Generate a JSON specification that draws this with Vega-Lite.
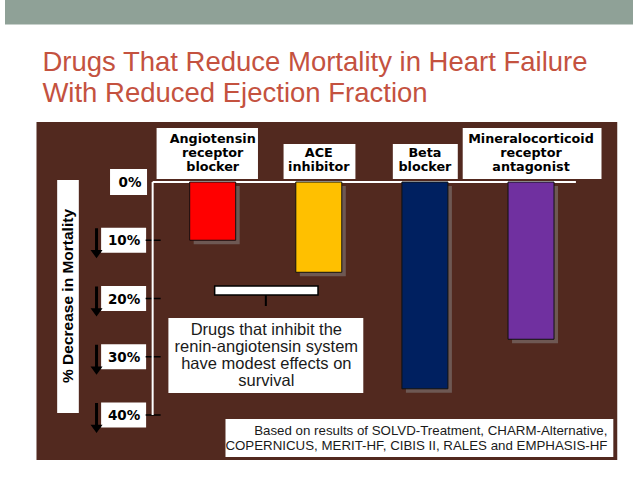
{
  "$schema": "https://vega.github.io/schema/vega-lite/v6.json",
  "width": 638,
  "height": 478,
  "autosize": {"type": "none"},
  "padding": 0,
  "background": "white",
  "config": {"view": {"stroke": null}},
  "datasets": {
    "drugs": [
      {"drug": "Angiotensin receptor blocker", "label": "Angiotensin\nreceptor\nblocker", "slot": 1, "decrease": 10},
      {"drug": "ACE inhibitor", "label": "ACE\ninhibitor", "slot": 2, "decrease": 15.5},
      {"drug": "Beta blocker", "label": "Beta\nblocker", "slot": 3, "decrease": 35.5},
      {"drug": "Mineralocorticoid receptor antagonist", "label": "Mineralocorticoid\nreceptor\nantagonist", "slot": 4, "decrease": 27}
    ],
    "ticks": [
      {"pct": 0, "label": "0%"},
      {"pct": 10, "label": "10%"},
      {"pct": 20, "label": "20%"},
      {"pct": 30, "label": "30%"},
      {"pct": 40, "label": "40%"}
    ]
  },
  "data": {"values": [{}]},
  "layer": [
    {
      "mark": {"type": "rect", "color": "#8FA197"},
      "encoding": {
        "x": {"datum": -0.9573, "type": "quantitative", "scale": {"domain": [-0.9573, 4.961], "nice": false, "zero": false}, "axis": null},
        "x2": {"datum": 4.961},
        "y": {"datum": -31.245, "type": "quantitative", "scale": {"domain": [-31.245, 50.815], "nice": false, "zero": false, "reverse": true}, "axis": null},
        "y2": {"datum": -27.04}
      }
    },
    {
      "mark": {"type": "text", "text": "Drugs That Reduce Mortality in Heart Failure\nWith Reduced Ejection Fraction", "lineBreak": "\n", "lineHeight": 31, "align": "left", "baseline": "alphabetic", "font": "Liberation Sans", "fontSize": 27.5, "color": "#C4523F"},
      "encoding": {
        "x": {"datum": -0.6048, "type": "quantitative", "scale": {"domain": [-0.9573, 4.961], "nice": false, "zero": false}, "axis": null},
        "y": {"datum": -19.056, "type": "quantitative", "scale": {"domain": [-31.245, 50.815], "nice": false, "zero": false, "reverse": true}, "axis": null}
      }
    },
    {
      "mark": {"type": "rect", "color": "#52291F"},
      "encoding": {
        "x": {"datum": -0.6605, "type": "quantitative", "scale": {"domain": [-0.9573, 4.961], "nice": false, "zero": false}, "axis": null},
        "x2": {"datum": 4.8126},
        "y": {"datum": -10.3, "type": "quantitative", "scale": {"domain": [-31.245, 50.815], "nice": false, "zero": false, "reverse": true}, "axis": null},
        "y2": {"datum": 47.725}
      }
    },
    {
      "mark": {"type": "rect", "color": "white"},
      "encoding": {
        "x": {"datum": -0.4657, "type": "quantitative", "scale": {"domain": [-0.9573, 4.961], "nice": false, "zero": false}, "axis": null},
        "x2": {"datum": -0.2616},
        "y": {"datum": -0.343, "type": "quantitative", "scale": {"domain": [-31.245, 50.815], "nice": false, "zero": false, "reverse": true}, "axis": null},
        "y2": {"datum": 39.657}
      }
    },
    {
      "mark": {"type": "text", "text": "% Decrease in Mortality", "angle": 270, "align": "center", "baseline": "middle", "font": "Liberation Sans", "fontWeight": "bold", "fontSize": 15.5, "color": "black"},
      "encoding": {
        "x": {"datum": -0.3636, "type": "quantitative", "scale": {"domain": [-0.9573, 4.961], "nice": false, "zero": false}, "axis": null},
        "y": {"datum": 19.571, "type": "quantitative", "scale": {"domain": [-31.245, 50.815], "nice": false, "zero": false, "reverse": true}, "axis": null}
      }
    },
    {
      "data": {"name": "ticks"},
      "transform": [{"filter": "datum.pct > 0"}],
      "mark": {"type": "tick", "orient": "horizontal", "size": 45, "thickness": 25, "color": "white", "opacity": 1},
      "encoding": {
        "x": {"datum": 0.1605, "type": "quantitative", "scale": {"domain": [-0.9573, 4.961], "nice": false, "zero": false}, "axis": null},
        "y": {"field": "pct", "type": "quantitative", "scale": {"domain": [-31.245, 50.815], "nice": false, "zero": false, "reverse": true}, "axis": null}
      }
    },
    {
      "data": {"name": "ticks"},
      "transform": [{"filter": "datum.pct == 0"}],
      "mark": {"type": "tick", "orient": "horizontal", "size": 37, "thickness": 26, "color": "white", "opacity": 1},
      "encoding": {
        "x": {"datum": 0.2069, "type": "quantitative", "scale": {"domain": [-0.9573, 4.961], "nice": false, "zero": false}, "axis": null},
        "y": {"field": "pct", "type": "quantitative", "scale": {"domain": [-31.245, 50.815], "nice": false, "zero": false, "reverse": true}, "axis": null}
      }
    },
    {
      "data": {"name": "ticks"},
      "transform": [{"filter": "datum.pct > 0"}],
      "mark": {"type": "text", "align": "center", "baseline": "middle", "dy": 1, "font": "DejaVu Sans", "fontWeight": "bold", "fontSize": 13.5, "color": "black"},
      "encoding": {
        "x": {"datum": 0.1651, "type": "quantitative", "scale": {"domain": [-0.9573, 4.961], "nice": false, "zero": false}, "axis": null},
        "y": {"field": "pct", "type": "quantitative", "scale": {"domain": [-31.245, 50.815], "nice": false, "zero": false, "reverse": true}, "axis": null},
        "text": {"field": "label"}
      }
    },
    {
      "data": {"name": "ticks"},
      "transform": [{"filter": "datum.pct == 0"}],
      "mark": {"type": "text", "align": "center", "baseline": "middle", "dy": 1, "font": "DejaVu Sans", "fontWeight": "bold", "fontSize": 13.5, "color": "black"},
      "encoding": {
        "x": {"datum": 0.2208, "type": "quantitative", "scale": {"domain": [-0.9573, 4.961], "nice": false, "zero": false}, "axis": null},
        "y": {"field": "pct", "type": "quantitative", "scale": {"domain": [-31.245, 50.815], "nice": false, "zero": false, "reverse": true}, "axis": null},
        "text": {"field": "label"}
      }
    },
    {
      "data": {"name": "ticks"},
      "transform": [{"filter": "datum.pct > 0"}],
      "mark": {"type": "point", "shape": "M-0.1,-1 L0.1,-1 L0.1,0.45 L0.4,0.45 L0,1 L-0.4,0.45 L-0.1,0.45 Z", "size": 900, "filled": true, "color": "black", "opacity": 1, "strokeWidth": 0, "yOffset": 3},
      "encoding": {
        "x": {"datum": -0.0947, "type": "quantitative", "scale": {"domain": [-0.9573, 4.961], "nice": false, "zero": false}, "axis": null},
        "y": {"field": "pct", "type": "quantitative", "scale": {"domain": [-31.245, 50.815], "nice": false, "zero": false, "reverse": true}, "axis": null}
      }
    },
    {
      "data": {"name": "ticks"},
      "transform": [{"filter": "datum.pct > 0"}],
      "mark": {"type": "tick", "orient": "horizontal", "size": 15, "thickness": 1.5, "color": "black", "opacity": 1},
      "encoding": {
        "x": {"datum": 0.4388, "type": "quantitative", "scale": {"domain": [-0.9573, 4.961], "nice": false, "zero": false}, "axis": null},
        "y": {"field": "pct", "type": "quantitative", "scale": {"domain": [-31.245, 50.815], "nice": false, "zero": false, "reverse": true}, "axis": null}
      }
    },
    {
      "mark": {"type": "rule", "color": "white", "strokeWidth": 2},
      "encoding": {
        "x": {"datum": 0.4341, "type": "quantitative", "scale": {"domain": [-0.9573, 4.961], "nice": false, "zero": false}, "axis": null},
        "y": {"datum": 0, "type": "quantitative", "scale": {"domain": [-31.245, 50.815], "nice": false, "zero": false, "reverse": true}, "axis": null},
        "y2": {"datum": 40}
      }
    },
    {
      "mark": {"type": "rule", "color": "white", "strokeWidth": 2},
      "encoding": {
        "x": {"datum": 0.4341, "type": "quantitative", "scale": {"domain": [-0.9573, 4.961], "nice": false, "zero": false}, "axis": null},
        "x2": {"datum": 4.423},
        "y": {"datum": 0, "type": "quantitative", "scale": {"domain": [-31.245, 50.815], "nice": false, "zero": false, "reverse": true}, "axis": null}
      }
    },
    {
      "data": {"name": "drugs"},
      "mark": {"type": "bar", "width": 46, "color": "#6E5853", "xOffset": 4, "yOffset": 4, "y2Offset": 4},
      "encoding": {
        "x": {"field": "slot", "type": "quantitative", "scale": {"domain": [-0.9573, 4.961], "nice": false, "zero": false}, "axis": null},
        "y": {"field": "decrease", "type": "quantitative", "scale": {"domain": [-31.245, 50.815], "nice": false, "zero": false, "reverse": true}, "axis": null},
        "y2": {"datum": 0}
      }
    },
    {
      "data": {"name": "drugs"},
      "mark": {"type": "bar", "width": 46, "stroke": "#111111", "strokeWidth": 1},
      "encoding": {
        "x": {"field": "slot", "type": "quantitative", "scale": {"domain": [-0.9573, 4.961], "nice": false, "zero": false}, "axis": null},
        "y": {"field": "decrease", "type": "quantitative", "scale": {"domain": [-31.245, 50.815], "nice": false, "zero": false, "reverse": true}, "axis": null},
        "y2": {"datum": 0},
        "color": {"field": "drug", "type": "nominal", "scale": {"domain": ["Angiotensin receptor blocker", "ACE inhibitor", "Beta blocker", "Mineralocorticoid receptor antagonist"], "range": ["#FF0000", "#FFC000", "#002060", "#7030A0"]}, "legend": null}
      }
    },
    {
      "mark": {"type": "rect", "color": "white"},
      "encoding": {
        "x": {"datum": 0.4712, "type": "quantitative", "scale": {"domain": [-0.9573, 4.961], "nice": false, "zero": false}, "axis": null},
        "x2": {"datum": 1.4267},
        "y": {"datum": -9.27, "type": "quantitative", "scale": {"domain": [-31.245, 50.815], "nice": false, "zero": false, "reverse": true}, "axis": null},
        "y2": {"datum": -0.515}
      }
    },
    {
      "mark": {"type": "rect", "color": "white"},
      "encoding": {
        "x": {"datum": 1.6679, "type": "quantitative", "scale": {"domain": [-0.9573, 4.961], "nice": false, "zero": false}, "axis": null},
        "x2": {"datum": 2.3451},
        "y": {"datum": -6.524, "type": "quantitative", "scale": {"domain": [-31.245, 50.815], "nice": false, "zero": false, "reverse": true}, "axis": null},
        "y2": {"datum": -0.515}
      }
    },
    {
      "mark": {"type": "rect", "color": "white"},
      "encoding": {
        "x": {"datum": 2.6976, "type": "quantitative", "scale": {"domain": [-0.9573, 4.961], "nice": false, "zero": false}, "axis": null},
        "x2": {"datum": 3.3098},
        "y": {"datum": -6.524, "type": "quantitative", "scale": {"domain": [-31.245, 50.815], "nice": false, "zero": false, "reverse": true}, "axis": null},
        "y2": {"datum": -0.515}
      }
    },
    {
      "mark": {"type": "rect", "color": "white"},
      "encoding": {
        "x": {"datum": 3.3562, "type": "quantitative", "scale": {"domain": [-0.9573, 4.961], "nice": false, "zero": false}, "axis": null},
        "x2": {"datum": 4.6642},
        "y": {"datum": -9.27, "type": "quantitative", "scale": {"domain": [-31.245, 50.815], "nice": false, "zero": false, "reverse": true}, "axis": null},
        "y2": {"datum": -0.515}
      }
    },
    {
      "data": {"name": "drugs"},
      "transform": [{"filter": "datum.slot == 1 || datum.slot == 4"}],
      "mark": {"type": "text", "lineBreak": "\n", "lineHeight": 13.8, "align": "center", "baseline": "alphabetic", "font": "DejaVu Sans", "fontWeight": "bold", "fontSize": 12.75, "color": "black"},
      "encoding": {
        "x": {"field": "slot", "type": "quantitative", "scale": {"domain": [-0.9573, 4.961], "nice": false, "zero": false}, "axis": null},
        "y": {"datum": -6.695, "type": "quantitative", "scale": {"domain": [-31.245, 50.815], "nice": false, "zero": false, "reverse": true}, "axis": null},
        "text": {"field": "label"}
      }
    },
    {
      "data": {"name": "drugs"},
      "transform": [{"filter": "datum.slot == 2 || datum.slot == 3"}],
      "mark": {"type": "text", "lineBreak": "\n", "lineHeight": 13.8, "align": "center", "baseline": "alphabetic", "font": "DejaVu Sans", "fontWeight": "bold", "fontSize": 12.75, "color": "black"},
      "encoding": {
        "x": {"field": "slot", "type": "quantitative", "scale": {"domain": [-0.9573, 4.961], "nice": false, "zero": false}, "axis": null},
        "y": {"datum": -4.292, "type": "quantitative", "scale": {"domain": [-31.245, 50.815], "nice": false, "zero": false, "reverse": true}, "axis": null},
        "text": {"field": "label"}
      }
    },
    {
      "mark": {"type": "rect", "color": "white", "stroke": "black", "strokeWidth": 1.5},
      "encoding": {
        "x": {"datum": 1.0186, "type": "quantitative", "scale": {"domain": [-0.9573, 4.961], "nice": false, "zero": false}, "axis": null},
        "x2": {"datum": 1.9926},
        "y": {"datum": 17.854, "type": "quantitative", "scale": {"domain": [-31.245, 50.815], "nice": false, "zero": false, "reverse": true}, "axis": null},
        "y2": {"datum": 19.399}
      }
    },
    {
      "mark": {"type": "rule", "color": "black", "strokeWidth": 2},
      "encoding": {
        "x": {"datum": 1.5009, "type": "quantitative", "scale": {"domain": [-0.9573, 4.961], "nice": false, "zero": false}, "axis": null},
        "y": {"datum": 19.399, "type": "quantitative", "scale": {"domain": [-31.245, 50.815], "nice": false, "zero": false, "reverse": true}, "axis": null},
        "y2": {"datum": 21.288}
      }
    },
    {
      "mark": {"type": "rect", "color": "white"},
      "encoding": {
        "x": {"datum": 0.5826, "type": "quantitative", "scale": {"domain": [-0.9573, 4.961], "nice": false, "zero": false}, "axis": null},
        "x2": {"datum": 2.4193},
        "y": {"datum": 23.348, "type": "quantitative", "scale": {"domain": [-31.245, 50.815], "nice": false, "zero": false, "reverse": true}, "axis": null},
        "y2": {"datum": 36.223}
      }
    },
    {
      "mark": {"type": "text", "text": "Drugs that inhibit the\nrenin-angiotensin system\nhave modest effects on\nsurvival", "lineBreak": "\n", "lineHeight": 17, "align": "center", "baseline": "alphabetic", "font": "Liberation Sans", "fontSize": 16.5, "color": "#1A1A1A"},
      "encoding": {
        "x": {"datum": 1.5056, "type": "quantitative", "scale": {"domain": [-0.9573, 4.961], "nice": false, "zero": false}, "axis": null},
        "y": {"datum": 26.266, "type": "quantitative", "scale": {"domain": [-31.245, 50.815], "nice": false, "zero": false, "reverse": true}, "axis": null}
      }
    },
    {
      "mark": {"type": "rect", "color": "white"},
      "encoding": {
        "x": {"datum": 1.1206, "type": "quantitative", "scale": {"domain": [-0.9573, 4.961], "nice": false, "zero": false}, "axis": null},
        "x2": {"datum": 4.7755},
        "y": {"datum": 40.687, "type": "quantitative", "scale": {"domain": [-31.245, 50.815], "nice": false, "zero": false, "reverse": true}, "axis": null},
        "y2": {"datum": 47.21}
      }
    },
    {
      "mark": {"type": "text", "text": "Based on results of SOLVD-Treatment, CHARM-Alternative,\nCOPERNICUS, MERIT-HF, CIBIS II, RALES and EMPHASIS-HF", "lineBreak": "\n", "lineHeight": 15, "align": "right", "baseline": "alphabetic", "font": "Liberation Sans", "fontSize": 13.3, "color": "#1A1A1A"},
      "encoding": {
        "x": {"datum": 4.7199, "type": "quantitative", "scale": {"domain": [-0.9573, 4.961], "nice": false, "zero": false}, "axis": null},
        "y": {"datum": 43.433, "type": "quantitative", "scale": {"domain": [-31.245, 50.815], "nice": false, "zero": false, "reverse": true}, "axis": null}
      }
    }
  ]
}
